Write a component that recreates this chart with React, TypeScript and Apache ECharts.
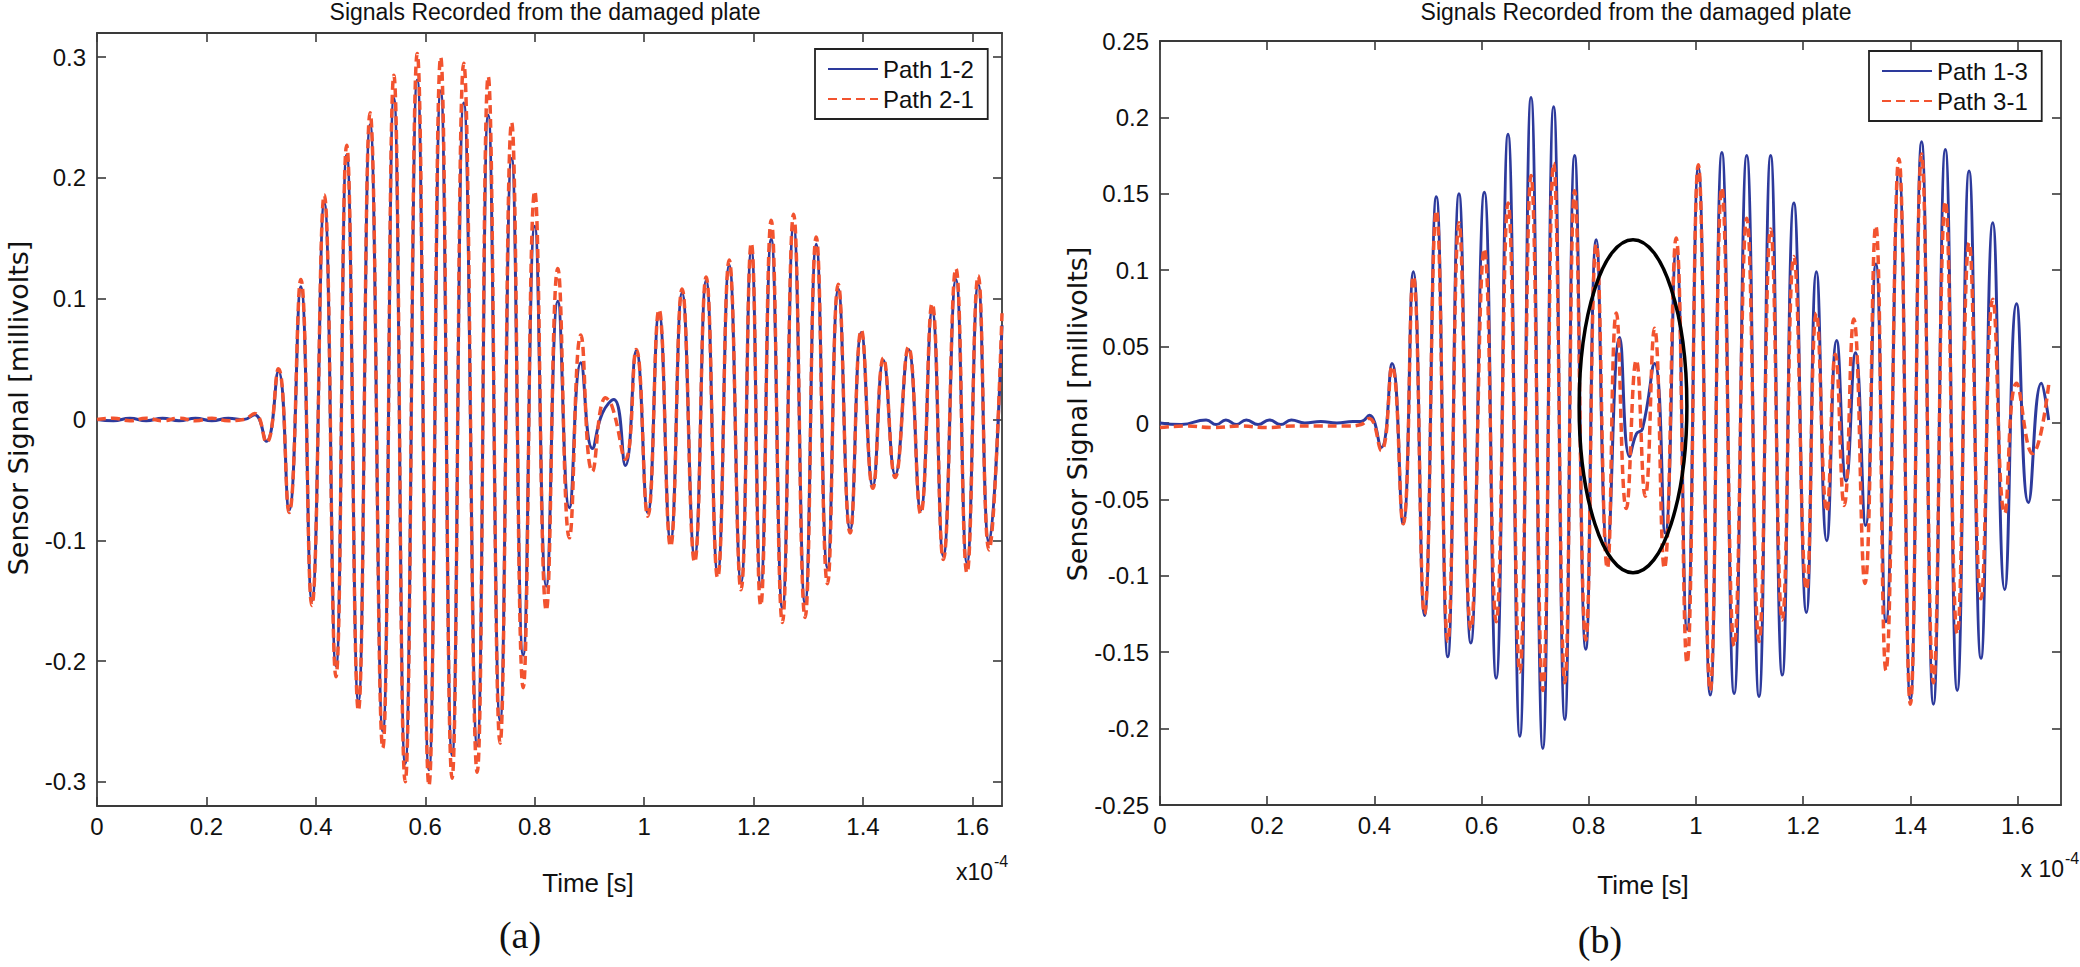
import React, { useEffect, useRef } from "react";
import * as echarts from "echarts";

// ---------- tick values (time in units of 1e-4 s) ----------
const xTicks = [0, 0.2, 0.4, 0.6, 0.8, 1, 1.2, 1.4, 1.6];
const yTicksA = [-0.3, -0.2, -0.1, 0, 0.1, 0.2, 0.3];
const yTicksB = [-0.25, -0.2, -0.15, -0.1, -0.05, 0, 0.05, 0.1, 0.15, 0.2, 0.25];

const legendA = ["Path 1-2", "Path 2-1"];
const legendB = ["Path 1-3", "Path 3-1"];

// ---------- (a) signal extrema: [time, mV] ----------
const path12: [number, number][] = [
  [0, 0], [0.03, -0.001], [0.06, 0.001], [0.09, -0.001], [0.12, 0.001], [0.15, -0.001], [0.18, 0.001], [0.21, -0.001], [0.24, 0.001], [0.268, 0],
  [0.288, 0.004], [0.3095, -0.018], [0.3315, 0.04], [0.3511, -0.075], [0.3725, 0.11], [0.3927, -0.15], [0.4153, 0.179], [0.4367, -0.204],
  [0.4563, 0.219], [0.4777, -0.233], [0.4991, 0.244], [0.5223, -0.258], [0.5425, 0.266], [0.5633, -0.285], [0.5853, 0.281], [0.6067, -0.29],
  [0.6281, 0.272], [0.6489, -0.278], [0.6703, 0.262], [0.6948, -0.27], [0.715, 0.252], [0.7367, -0.249], [0.7578, 0.216], [0.7789, -0.195],
  [0.8, 0.16], [0.8211, -0.138], [0.8422, 0.098], [0.8633, -0.073], [0.8843, 0.047], [0.9054, -0.024], [0.9235, 0.005], [0.9446, 0.0166],
  [0.9657, -0.038], [0.9855, 0.057], [1.0066, -0.077], [1.0271, 0.088], [1.0482, -0.1], [1.0693, 0.105], [1.0922, -0.113], [1.1133, 0.115],
  [1.1343, -0.127], [1.1554, 0.128], [1.177, -0.135], [1.1958, 0.14], [1.213, -0.138], [1.2322, 0.149], [1.2526, -0.156], [1.2731, 0.16],
  [1.2941, -0.152], [1.3145, 0.145], [1.335, -0.123], [1.3548, 0.108], [1.3765, -0.091], [1.3969, 0.072], [1.418, -0.055], [1.4372, 0.049],
  [1.4588, -0.046], [1.483, 0.058], [1.5053, -0.075], [1.5263, 0.09], [1.5468, -0.113], [1.5697, 0.116], [1.59, -0.119], [1.6105, 0.112],
  [1.6303, -0.102], [1.654, 0.078],
];

const path21: [number, number][] = [
  [0, 0], [0.03, 0.001], [0.06, -0.001], [0.09, 0.001], [0.12, -0.001], [0.15, 0.001], [0.18, -0.001], [0.21, 0.001], [0.24, -0.001], [0.268, 0],
  [0.288, 0.005], [0.3095, -0.019], [0.3315, 0.042], [0.3511, -0.077], [0.3725, 0.116], [0.3927, -0.154], [0.4153, 0.186], [0.4367, -0.213],
  [0.4563, 0.227], [0.4777, -0.241], [0.4991, 0.254], [0.5223, -0.272], [0.5425, 0.285], [0.5633, -0.3], [0.5853, 0.303], [0.6067, -0.303],
  [0.6281, 0.3], [0.6489, -0.297], [0.6703, 0.295], [0.6948, -0.292], [0.715, 0.284], [0.7367, -0.268], [0.7578, 0.246], [0.7789, -0.222],
  [0.8, 0.189], [0.8211, -0.158], [0.8422, 0.125], [0.8633, -0.098], [0.8843, 0.07], [0.9054, -0.043], [0.9295, 0.018], [0.942, 0.01],
  [0.9657, -0.033], [0.9855, 0.058], [1.0066, -0.08], [1.0271, 0.091], [1.0482, -0.105], [1.0693, 0.108], [1.0922, -0.118], [1.1133, 0.118],
  [1.1343, -0.131], [1.1554, 0.132], [1.177, -0.141], [1.1958, 0.146], [1.213, -0.154], [1.2322, 0.165], [1.2526, -0.168], [1.2731, 0.17],
  [1.2941, -0.164], [1.3145, 0.151], [1.335, -0.136], [1.3548, 0.112], [1.3765, -0.094], [1.3969, 0.074], [1.418, -0.057], [1.4372, 0.051],
  [1.4588, -0.048], [1.483, 0.06], [1.5053, -0.078], [1.5263, 0.096], [1.5468, -0.116], [1.5697, 0.125], [1.59, -0.127], [1.6105, 0.119],
  [1.6303, -0.108], [1.654, 0.088],
];

// ---------- (b) signal extrema: [time, mV] ----------
const path13: [number, number][] = [
  [0, 0], [0.04, -0.001], [0.086, 0.002], [0.105, -0.001], [0.123, 0.002], [0.142, -0.001], [0.161, 0.002], [0.183, -0.001], [0.204, 0.002],
  [0.225, -0.001], [0.245, 0.002], [0.27, 0], [0.3, 0.001], [0.33, 0], [0.36, 0.001], [0.375, 0.001],
  [0.3905, 0.005], [0.4126, -0.016], [0.4328, 0.039], [0.4536, -0.066], [0.4726, 0.099], [0.4934, -0.126], [0.5155, 0.148], [0.5369, -0.153],
  [0.5578, 0.15], [0.5799, -0.144], [0.6051, 0.151], [0.6272, -0.167], [0.6493, 0.189], [0.6713, -0.205], [0.6922, 0.213], [0.7142, -0.213],
  [0.7344, 0.207], [0.7553, -0.194], [0.7736, 0.175], [0.7944, -0.148], [0.814, 0.12], [0.8347, -0.082], [0.8576, 0.056], [0.8762, -0.022],
  [0.889, -0.007], [0.9, -0.004], [0.9226, 0.039], [0.9424, -0.072], [0.9629, 0.113], [0.9833, -0.135], [1.0043, 0.167], [1.0266, -0.178],
  [1.0483, 0.177], [1.0712, -0.177], [1.0947, 0.175], [1.1176, -0.179], [1.1393, 0.175], [1.161, -0.165], [1.1826, 0.144], [1.2061, -0.124],
  [1.2247, 0.099], [1.244, -0.077], [1.2625, 0.054], [1.28, -0.038], [1.2975, 0.046], [1.3164, -0.067], [1.3354, 0.104], [1.3544, -0.13],
  [1.3785, 0.165], [1.4, -0.181], [1.4209, 0.184], [1.443, -0.184], [1.4652, 0.179], [1.4874, -0.175], [1.5095, 0.165], [1.5317, -0.154],
  [1.5538, 0.131], [1.576, -0.109], [1.5981, 0.078], [1.6203, -0.052], [1.6443, 0.026], [1.658, 0.002],
];

const path31: [number, number][] = [
  [0, -0.003], [0.05, -0.002], [0.1, -0.003], [0.15, -0.002], [0.2, -0.003], [0.25, -0.002], [0.3, -0.002], [0.35, -0.002], [0.375, -0.001],
  [0.3905, 0.003], [0.4126, -0.018], [0.4328, 0.037], [0.4536, -0.066], [0.4726, 0.096], [0.4934, -0.125], [0.5155, 0.139], [0.5369, -0.143],
  [0.5578, 0.131], [0.5799, -0.135], [0.6051, 0.114], [0.6272, -0.13], [0.6493, 0.144], [0.6713, -0.163], [0.6922, 0.162], [0.7142, -0.175],
  [0.7344, 0.17], [0.7553, -0.17], [0.7736, 0.152], [0.7944, -0.142], [0.814, 0.117], [0.8347, -0.095], [0.8514, 0.072], [0.87, -0.056],
  [0.8886, 0.041], [0.9053, -0.048], [0.9226, 0.062], [0.941, -0.095], [0.9629, 0.121], [0.9833, -0.157], [1.0043, 0.169], [1.0266, -0.175],
  [1.0483, 0.154], [1.0712, -0.146], [1.0947, 0.134], [1.1176, -0.143], [1.1393, 0.127], [1.161, -0.129], [1.1826, 0.109], [1.2061, -0.109],
  [1.2247, 0.072], [1.244, -0.058], [1.26, 0.045], [1.2765, -0.054], [1.2943, 0.068], [1.3152, -0.105], [1.3354, 0.129], [1.3544, -0.162],
  [1.3785, 0.173], [1.4, -0.184], [1.4209, 0.176], [1.443, -0.17], [1.4652, 0.145], [1.4874, -0.138], [1.5095, 0.118], [1.5317, -0.115],
  [1.5538, 0.081], [1.576, -0.059], [1.5981, 0.026], [1.628, -0.02], [1.658, 0.025],
];

// damaged zone marked in (b): [centre time, centre mV, half width, half height]
const damageZone = [[0.8825, 0.011, 0.1005, 0.109]];

const BLUE = "#2d3a9c";
const RED = "#f2532f";
const AXIS = "#3a3a3a";
const SANS = '"Liberation Sans", Arial, Helvetica, sans-serif';
const WIDE = '"DejaVu Sans", Verdana, sans-serif';
const SERIF = '"Liberation Serif", "Times New Roman", serif';

function makeAxes(gridIndex: number, xMax: number, yMin: number, yMax: number, yTicks: number[]) {
  const line = { show: true, onZero: false, lineStyle: { color: AXIS, width: 1.8 } };
  const tick = (vals: number[]) => ({ show: true, inside: true, length: 9, customValues: vals, lineStyle: { color: AXIS, width: 1.6 } });
  const label = (vals: number[], margin: number) => ({
    show: true, customValues: vals, margin, color: "#111", fontSize: 24, fontFamily: SANS,
  });
  const xs = [
    { gridIndex, type: "value", min: 0, max: xMax, position: "bottom", axisLine: line, axisTick: tick(xTicks), axisLabel: label(xTicks, 8), splitLine: { show: false } },
    { gridIndex, type: "value", min: 0, max: xMax, position: "top", axisLine: line, axisTick: tick(xTicks), axisLabel: { show: false }, splitLine: { show: false } },
  ];
  const ys = [
    { gridIndex, type: "value", min: yMin, max: yMax, position: "left", axisLine: line, axisTick: tick(yTicks), axisLabel: label(yTicks, 11), splitLine: { show: false } },
    { gridIndex, type: "value", min: yMin, max: yMax, position: "right", axisLine: line, axisTick: tick(yTicks), axisLabel: { show: false }, splitLine: { show: false } },
  ];
  return { xs, ys };
}

function legendOpt(data: string[], left: number, top: number) {
  return {
    data, left, top, orient: "vertical", selectedMode: false,
    backgroundColor: "#ffffff", borderColor: "#222", borderWidth: 1.8, borderRadius: 0,
    padding: [8, 14, 8, 12], itemGap: 6, itemWidth: 50, itemHeight: 14,
    itemStyle: { opacity: 0, borderWidth: 0 },
    textStyle: { fontSize: 24, fontFamily: SANS, color: "#111" },
  };
}

function text(x: number, y: number, str: string, size: number, family: string, extra: any = {}) {
  return {
    type: "text", x, y, silent: true, ...extra,
    style: { text: str, fontSize: size, fontFamily: family, fill: "#111", align: "center", verticalAlign: "middle", ...(extra.style || {}) },
  };
}

export default function App() {
  const ref = useRef<HTMLDivElement>(null);

  useEffect(() => {
    document.body.style.margin = "0";
    if (!ref.current) return;
    const chart = echarts.init(ref.current, undefined, { renderer: "svg" });

    const a = makeAxes(0, 1.654, -0.32, 0.32, yTicksA);
    const b = makeAxes(1, 1.681, -0.25, 0.25, yTicksB);

    const blueStyle = { color: BLUE, width: 3 };
    const redStyle = { color: RED, width: 3.5, type: [9, 5] };

    const option: any = {
      animation: false,
      backgroundColor: "#ffffff",
      grid: [
        { left: 97, top: 33, width: 905, height: 773 },
        { left: 1160, top: 41, width: 901, height: 764 },
      ],
      xAxis: [...a.xs, ...b.xs],
      yAxis: [...a.ys, ...b.ys],
      legend: [legendOpt(legendA, 815, 49), legendOpt(legendB, 1869, 51)],
      series: [
        { type: "line", name: "Path 1-2", xAxisIndex: 0, yAxisIndex: 0, data: path12, smooth: 0.5, symbol: "none", showSymbol: false,
          lineStyle: blueStyle, itemStyle: { color: BLUE }, z: 2 },
        { type: "line", name: "Path 2-1", xAxisIndex: 0, yAxisIndex: 0, data: path21, smooth: 0.5, symbol: "none", showSymbol: false,
          lineStyle: redStyle, itemStyle: { color: RED }, z: 3 },
        { type: "line", name: "Path 1-3", xAxisIndex: 2, yAxisIndex: 2, data: path13, smooth: 0.5, symbol: "none", showSymbol: false,
          lineStyle: blueStyle, itemStyle: { color: BLUE }, z: 2 },
        { type: "line", name: "Path 3-1", xAxisIndex: 2, yAxisIndex: 2, data: path31, smooth: 0.5, symbol: "none", showSymbol: false,
          lineStyle: redStyle, itemStyle: { color: RED }, z: 3 },
        {
          type: "custom", name: "damage", xAxisIndex: 2, yAxisIndex: 2, data: damageZone, z: 5, silent: true,
          encode: { x: 0, y: 1 },
          renderItem: (_params: any, api: any) => {
            const c = api.coord([api.value(0), api.value(1)]);
            const p = api.coord([api.value(0) + api.value(2), api.value(1) + api.value(3)]);
            return {
              type: "ellipse",
              shape: { cx: c[0], cy: c[1], rx: Math.abs(p[0] - c[0]), ry: Math.abs(c[1] - p[1]) },
              style: { fill: "none", stroke: "#000", lineWidth: 3.5 },
            };
          },
        },
      ],
      graphic: [
        text(545, 12, "Signals Recorded from the damaged plate", 23, SANS),
        text(1636, 12, "Signals Recorded from the damaged plate", 23, SANS),
        text(18, 408, "Sensor Signal [millivolts]", 27, WIDE, { rotation: Math.PI / 2 }),
        text(1077, 414, "Sensor Signal [millivolts]", 27, WIDE, { rotation: Math.PI / 2 }),
        text(588, 883, "Time [s]", 26, SANS),
        text(1643, 885, "Time [s]", 26, SANS),
        text(993, 872, "x10", 23, SANS, { style: { align: "right" } }),
        text(994, 861, "-4", 16, SANS, { style: { align: "left" } }),
        text(2064, 869, "x 10", 23, SANS, { style: { align: "right" } }),
        text(2065, 858, "-4", 16, SANS, { style: { align: "left" } }),
        text(520, 935, "(a)", 38, SERIF),
        text(1600, 940, "(b)", 38, SERIF),
      ],
    };

    chart.setOption(option);
    return () => chart.dispose();
  }, []);

  return <div ref={ref} style={{ width: 2080, height: 967 }} />;
}
